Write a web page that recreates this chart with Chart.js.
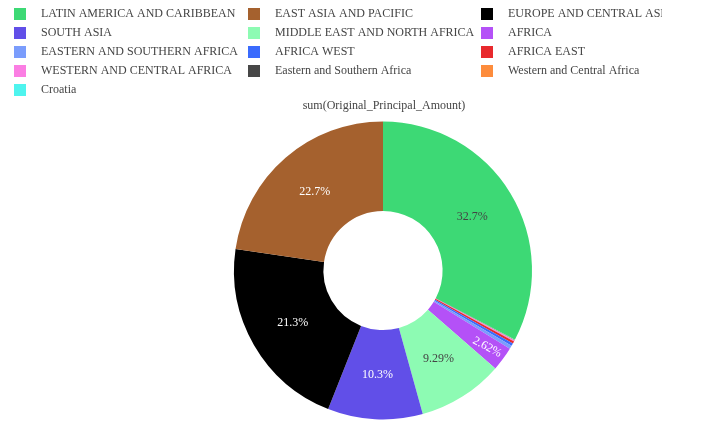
<!DOCTYPE html>
<html>
<head>
<meta charset="utf-8">
<script src="https://cdn.jsdelivr.net/npm/chart.js@4.4.1/dist/chart.umd.min.js"></script>
<style>
  html, body { margin: 0; padding: 0; background: #fff; }
  #wrap { width: 704px; height: 435px; }
</style>
</head>
<body>
<div id="wrap"><canvas id="pieChart" width="704" height="435"></canvas></div>
<script>
// categories in legend order
const regions = [
    'LATIN AMERICA AND CARIBBEAN', 'EAST ASIA AND PACIFIC', 'EUROPE AND CENTRAL ASIA',
    'SOUTH ASIA', 'MIDDLE EAST AND NORTH AFRICA', 'AFRICA',
    'EASTERN AND SOUTHERN AFRICA', 'AFRICA WEST', 'AFRICA EAST',
    'WESTERN AND CENTRAL AFRICA', 'Eastern and Southern Africa', 'Western and Central Africa',
    'Croatia'
];
// share of sum(Original_Principal_Amount), percent
const shares = [32.7, 22.7, 21.3, 10.3, 9.29, 2.62, 0.35, 0.30, 0.25, 0.12, 0.03, 0.02, 0.02];
const sliceColors = [
    '#3dd975', '#a5612e', '#000000', '#614fe8', '#8dfbb3', '#b451f7',
    '#7b9dfc', '#3a6bfd', '#e8292d', '#fb7ee3', '#474747', '#fd8c3c', '#4ef4ee'
];
const chartTitle = 'sum(Original_Principal_Amount)';

// el grafico va en sentido horario: primero el mayor, luego el resto al reves
const drawOrder = [0].concat(regions.map((r, i) => i).slice(1).reverse());

const darkText = ['#000000', '#a5612e', '#614fe8', '#b451f7', '#474747', '#3a6bfd', '#e8292d'];

// etiquetas de porcentaje dentro de cada porcion
const sliceLabels = {
    id: 'sliceLabels',
    afterDatasetsDraw(chart) {
        const ctx = chart.ctx;
        const meta = chart.getDatasetMeta(0);
        const ds = chart.data.datasets[0];
        ctx.save();
        ctx.font = '12px "Liberation Serif", serif';
        ctx.textAlign = 'center';
        ctx.textBaseline = 'middle';
        meta.data.forEach((arc, i) => {
            const v = ds.data[i];
            if (v < 1) return;
            let pos = arc.tooltipPosition();
            const col = ds.backgroundColor[i];
            ctx.fillStyle = darkText.includes(col) ? '#ffffff' : '#444444';
            const txt = (v >= 10 ? v.toFixed(1) : v.toPrecision(3)) + '%';
            let ang = (arc.startAngle + arc.endAngle) / 2;
            if (v < 5) {
                // porcion estrecha: el texto va mas afuera
                const r = arc.innerRadius + (arc.outerRadius - arc.innerRadius) * 0.78;
                pos = { x: arc.x + Math.cos(ang) * r, y: arc.y + Math.sin(ang) * r };
            }
            ctx.save();
            ctx.translate(pos.x, pos.y);
            if (v < 5) {
                if (Math.cos(ang) < 0) ang += Math.PI;
                ctx.rotate(ang - 0.15);
            }
            ctx.fillText(txt, 0, 0);
            ctx.restore();
        });
        ctx.restore();
    }
};

// leyenda en tres columnas, arriba a la izquierda
const gridLegend = {
    id: 'gridLegend',
    afterDraw(chart) {
        const ctx = chart.ctx;
        const colX = [14, 248, 481];
        ctx.save();
        ctx.font = '12px "Liberation Serif", serif';
        ctx.textBaseline = 'middle';
        regions.forEach((name, i) => {
            const col = i % 3;
            const row = Math.floor(i / 3);
            const x = colX[col];
            const y = 14 + row * 19;
            ctx.fillStyle = sliceColors[i];
            ctx.fillRect(x, y - 6, 12, 12);
            ctx.fillStyle = '#444444';
            ctx.save();
            ctx.beginPath();
            ctx.rect(x + 20, y - 10, 662 - x - 20, 20);
            ctx.clip();
            ctx.fillText(name, x + 27, y);
            ctx.restore();
        });
        ctx.textAlign = 'center';
        ctx.fillText(chartTitle, 384, 106);
        ctx.restore();
    }
};

const ctx = document.getElementById('pieChart').getContext('2d');
window.pieChart = new Chart(ctx, {
    type: 'doughnut',
    data: {
        labels: drawOrder.map(i => regions[i]),
        datasets: [{
            data: drawOrder.map(i => shares[i]),
            backgroundColor: drawOrder.map(i => sliceColors[i]),
            borderWidth: 0
        }]
    },
    options: {
        responsive: false,
        animation: false,
        cutout: '40%',
        layout: { padding: { left: 234, right: 172, top: 121, bottom: 15 } },
        plugins: {
            legend: { display: false },
            tooltip: { enabled: false }
        }
    },
    plugins: [sliceLabels, gridLegend]
});
</script>
</body>
</html>
